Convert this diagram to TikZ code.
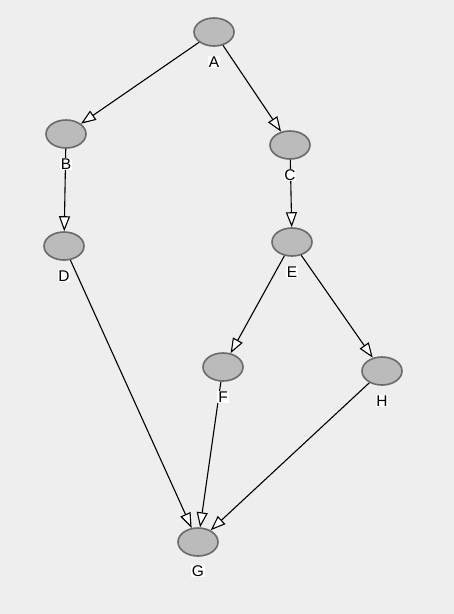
\documentclass[tikz,border=0pt]{standalone}
\usepackage{fontspec}
\setmainfont{Liberation Sans}
\usetikzlibrary{shapes.geometric,arrows.meta}
\definecolor{bg}{HTML}{EEEEEE}
\definecolor{nodefill}{HTML}{BBBBBB}
\definecolor{nodeline}{HTML}{6A6A6A}
\begin{document}
\begin{tikzpicture}[x=1pt,y=-1pt,
  vert/.style={ellipse,draw=nodeline,fill=nodefill,line width=1.6pt,minimum width=40pt,minimum height=28pt,inner sep=0pt},
  lbl/.style={fill=white,inner sep=0.8pt,font=\fontsize{15.5}{17}\selectfont},
  edge/.style={draw=black,line width=1.1pt,-{Triangle[length=15pt,width=11pt,fill=white,line width=1.1pt]}}]
\fill[bg] (0,0) rectangle (454,614);
\useasboundingbox (0,0) rectangle (454,614);
\node[vert] (A) at (214,32) {};
\node[vert] (B) at (66,134) {};
\node[vert] (C) at (290,145) {};
\node[vert] (D) at (64,246) {};
\node[vert] (E) at (292,242) {};
\node[vert] (F) at (223,367) {};
\node[vert] (H) at (382,371) {};
\node[vert] (G) at (198,542) {};
\draw[edge] (A) -- (B);
\draw[edge] (A) -- (C);
\draw[edge] (B) -- (D);
\draw[edge] (C) -- (E);
\draw[edge] (E) -- (F);
\draw[edge] (E) -- (H);
\draw[edge] (D) -- (G);
\draw[edge] (F) -- (G);
\draw[edge] (H) -- (G);
\node[lbl] (lA) at (214,62) {A};
\node[lbl] (lB) at (66,164) {B};
\node[lbl] (lC) at (290,175) {C};
\node[lbl] (lD) at (64,276) {D};
\node[lbl] (lE) at (292,272) {E};
\node[lbl] (lF) at (223,397) {F};
\node[lbl] (lH) at (382,401) {H};
\node[lbl] (lG) at (198,571) {G};
\end{tikzpicture}
\end{document}
